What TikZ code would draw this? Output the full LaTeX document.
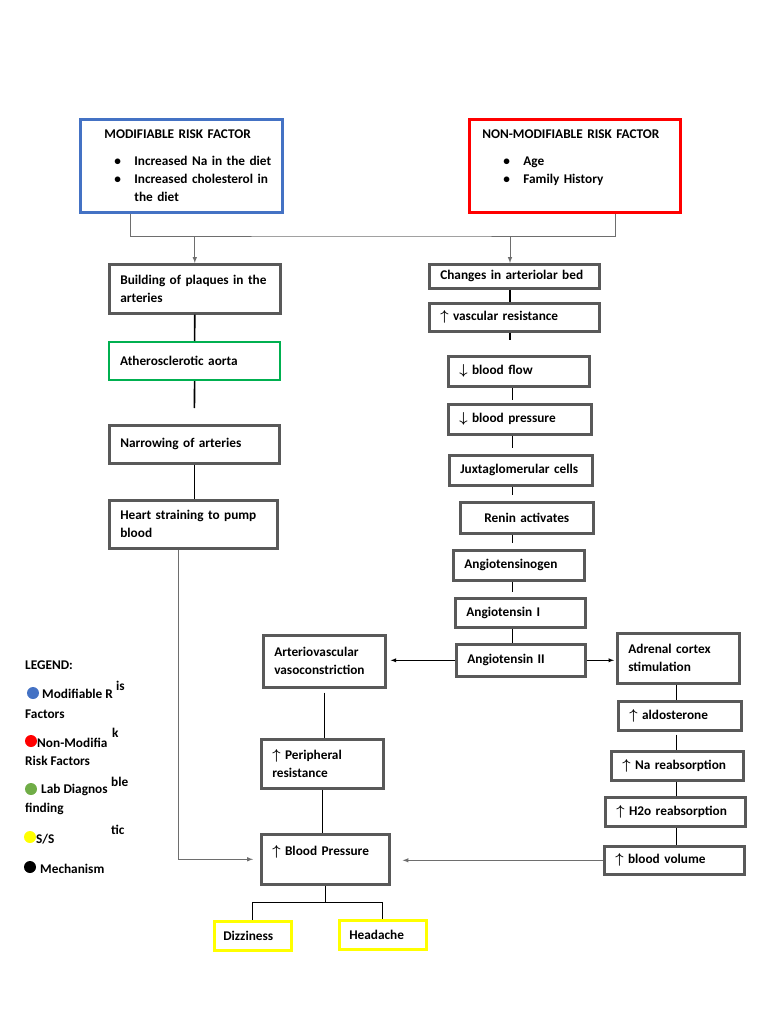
\documentclass[tikz,border=0pt]{standalone}
\usepackage{fontspec}
\setmainfont{Carlito}
\usepackage{amsmath}

\definecolor{boxgray}{HTML}{595959}
\definecolor{modblue}{HTML}{4472C4}
\definecolor{nonred}{HTML}{FF0000}
\definecolor{labgreen}{HTML}{00B050}
\definecolor{ssyellow}{HTML}{FFFF00}
\definecolor{leggreen}{HTML}{70AD47}
\definecolor{feedgray}{HTML}{6E6E6E}

\newcommand{\riskitem}[1]{\hspace*{28pt}\makebox[20pt][l]{\textbullet}#1}
\newcommand{\arrup}{$\boldsymbol{\uparrow}$}
\newcommand{\arrdown}{$\boldsymbol{\downarrow}$}

\tikzset{
  flowbox/.style={draw=boxgray, line width=2.6pt, anchor=north west, align=left, inner xsep=11pt, inner ysep=4pt},
  riskbox/.style={flowbox, inner xsep=6pt, line width=2.8pt},
  legtext/.style={anchor=west, inner sep=0pt},
  legdot/.style={circle, inner sep=0pt, minimum size=12pt},
  feed/.style={draw=feedgray, line width=1pt},
  spine/.style={draw=black, line width=1.6pt},
  link/.style={draw=black, line width=0.9pt},
}

\begin{document}
\begin{tikzpicture}[x=1pt, y=-1pt, every node/.style={font=\bfseries\fontsize{13.3}{18}\selectfont}]
            \useasboundingbox (0,0) rectangle (768,1024);

            % risk factors
            \node[riskbox, draw=modblue, text width=190pt, minimum height=93pt] (modrisk) at (79,118)
                {\hspace*{18pt}MODIFIABLE RISK FACTOR\\[9pt]
                 \riskitem{Increased Na in the diet}\\
                 \riskitem{Increased cholesterol in}\\
                 \hspace*{48pt}the diet};
            \node[riskbox, draw=nonred, text width=199pt, minimum height=93pt] (nonmod) at (468,118)
                {\hspace*{7pt}NON-MODIFIABLE RISK FACTOR\\[9pt]
                 \riskitem{Age}\\
                 \riskitem{Family History}\\
                 \mbox{}};

            % left column
            \node[flowbox, text width=149pt, minimum height=49pt] (plaques) at (108,263) {Building of plaques in the\\ arteries};
            \node[flowbox, draw=labgreen, line width=2.2pt, text width=149pt, minimum height=38pt] (athero) at (108,341) {Atherosclerotic aorta};
            \node[flowbox, text width=148pt, minimum height=38pt] (narrow) at (108,424) {Narrowing of arteries};
            \node[flowbox, text width=146pt, minimum height=48pt] (heart) at (108,499) {Heart straining to pump\\ blood};

            % right column
            \node[flowbox, text width=148pt, minimum height=24pt] (changes) at (428,263) {Changes in arteriolar bed};
            \node[flowbox, text width=148pt, minimum height=28pt] (vascular) at (428,302) {\arrup{} vascular resistance};
            \node[flowbox, text width=119pt, minimum height=30pt] (bflow) at (447,355) {\arrdown{} blood flow};
            \node[flowbox, text width=121pt, minimum height=30pt] (bpress) at (447,403) {\arrdown{} blood pressure};
            \node[flowbox, text width=121pt, minimum height=30pt] (juxta) at (448,454) {Juxtaglomerular cells};
            \node[flowbox, align=center, text width=111pt, minimum height=31pt] (renin) at (459,501) {Renin activates};
            \node[flowbox, text width=109pt, minimum height=30pt] (angiogen) at (452,549) {Angiotensinogen};
            \node[flowbox, text width=108pt, minimum height=29pt] (angone) at (454,597) {Angiotensin I};
            \node[flowbox, text width=107pt, minimum height=32pt] (angtwo) at (455,643) {Angiotensin II};

            \node[flowbox, text width=100pt, minimum height=52pt] (arterio) at (262,634) {Arteriovascular\\ vasoconstriction};
            \node[flowbox, text width=100pt, minimum height=49pt] (periph) at (260,738) {\arrup{} Peripheral\\ resistance};
            \node[flowbox, text width=106pt, minimum height=50pt] (bp) at (260,833) {\arrup{} Blood Pressure\\ \mbox{}};

            \node[flowbox, text width=100pt, minimum height=50pt] (adrenal) at (616,632) {Adrenal cortex\\ stimulation};
            \node[flowbox, text width=101pt, minimum height=29pt] (aldo) at (617,700) {\arrup{} aldosterone};
            \node[flowbox, text width=110pt, minimum height=29pt] (sodium) at (610,750) {\arrup{} Na reabsorption};
            \node[flowbox, text width=118pt, minimum height=29pt] (water) at (604,796) {\arrup{} H2o reabsorption};
            \node[flowbox, text width=118pt, minimum height=28pt] (bvol) at (603,845) {\arrup{} blood volume};

            % signs and symptoms
            \node[flowbox, draw=ssyellow, inner xsep=9pt, text width=59pt, minimum height=29pt] (dizzy) at (213,920) {Dizziness};
            \node[flowbox, draw=ssyellow, inner xsep=10pt, text width=67pt, minimum height=29pt] (head) at (338,919) {Headache};

            % legend
            \node[legtext] (legend) at (25,665) {LEGEND:};
            \node[legdot, fill=modblue] (dotmod) at (33,693) {};
            \node[legtext] (legmod) at (42,694) {Modifiable R};
            \node[legtext] (supmod) at (116,686) {is};
            \node[legtext] (legmodb) at (25,714) {Factors};
            \node[legdot, fill=nonred] (dotnon) at (31,741) {};
            \node[legtext] (legnon) at (37,743) {Non-Modifia};
            \node[legtext] (supnon) at (112,733) {k};
            \node[legtext] (legnonb) at (25,761) {Risk Factors};
            \node[legdot, fill=leggreen] (dotlab) at (31,789) {};
            \node[legtext] (leglab) at (41,790) {Lab Diagnos};
            \node[legtext] (suplab) at (111,782) {ble};
            \node[legtext] (leglabb) at (25,809) {finding};
            \node[legdot, fill=ssyellow] (dotss) at (30,837) {};
            \node[legtext] (legss) at (36,839) {S/S};
            \node[legtext] (supss) at (111,830) {tic};
            \node[legdot, fill=black] (dotmech) at (30,867) {};
            \node[legtext] (legmech) at (40,869) {Mechanism};

            % helper points
            \coordinate (split) at (370,236);
            \coordinate (modx) at (130,0);
            \coordinate (nonx) at (615,0);
            \coordinate (heartx) at (178,0);
            \coordinate (renalx) at (512,0);
            \coordinate (adrenalx) at (676,0);
            \coordinate (fork) at (321,902);

            % connectors
            \draw[feed] (modrisk.south -| modx) |- (split) -| (nonmod.south -| nonx);
            \draw[feed,-latex] (split -| plaques.north) -- (plaques.north);
            \draw[feed,-latex] (split -| 510,0) -- (changes.north -| 510,0);

            \draw[spine] (plaques.south) -- (athero.north);
            \draw[spine, shorten >=16pt] (athero.south) -- (narrow.north);
            \draw[spine] (narrow.south) -- (narrow.south |- heart.north);
            \draw[feed,-latex, shorten >=7pt] (heart.south -| heartx) |- (bp.west);

            \draw[spine] (changes.south -| 510,0) -- (vascular.north -| 510,0);
            \draw[spine, shorten >=15pt] (vascular.south -| 510,0) -- (bflow.north -| 510,0);
            \draw[link, shorten >=3pt] (bflow.south -| renalx) -- (bpress.north -| renalx);
            \draw[link, shorten >=6pt] (bpress.south -| renalx) -- (juxta.north -| renalx);
            \draw[link, shorten >=6pt] (juxta.south -| renalx) -- (renin.north -| renalx);
            \draw[link, shorten >=6pt] (renin.south -| renalx) -- (angiogen.north -| renalx);
            \draw[link, shorten >=5pt] (angiogen.south -| renalx) -- (angone.north -| renalx);
            \draw[link] (angone.south -| renalx) -- (angtwo.north -| renalx);

            \draw[link,-latex, shorten >=4pt] (angtwo.west) -- (angtwo.west -| arterio.east);
            \draw[link,-latex, shorten >=2pt] (angtwo.east) -- (angtwo.east -| adrenal.west);
            \draw[link, shorten <=4pt] (arterio.south) -- (arterio.south |- periph.north);
            \draw[link] (periph.south) -- (periph.south |- bp.north);

            \draw[link] (adrenal.south -| adrenalx) -- (aldo.north -| adrenalx);
            \draw[link, shorten <=3pt] (aldo.south -| adrenalx) -- (sodium.north -| adrenalx);
            \draw[link] (sodium.south -| adrenalx) -- (water.north -| adrenalx);
            \draw[link] (water.south -| adrenalx) -- (bvol.north -| adrenalx);
            \draw[feed,-latex, shorten >=12pt] (bvol.west) -- (bvol.west -| bp.east);

            \draw[link] (bp.south) -- (bp.south |- fork);
            \draw[link] (dizzy.north) |- (fork) -| (head.north);
        \end{tikzpicture}
\end{document}
